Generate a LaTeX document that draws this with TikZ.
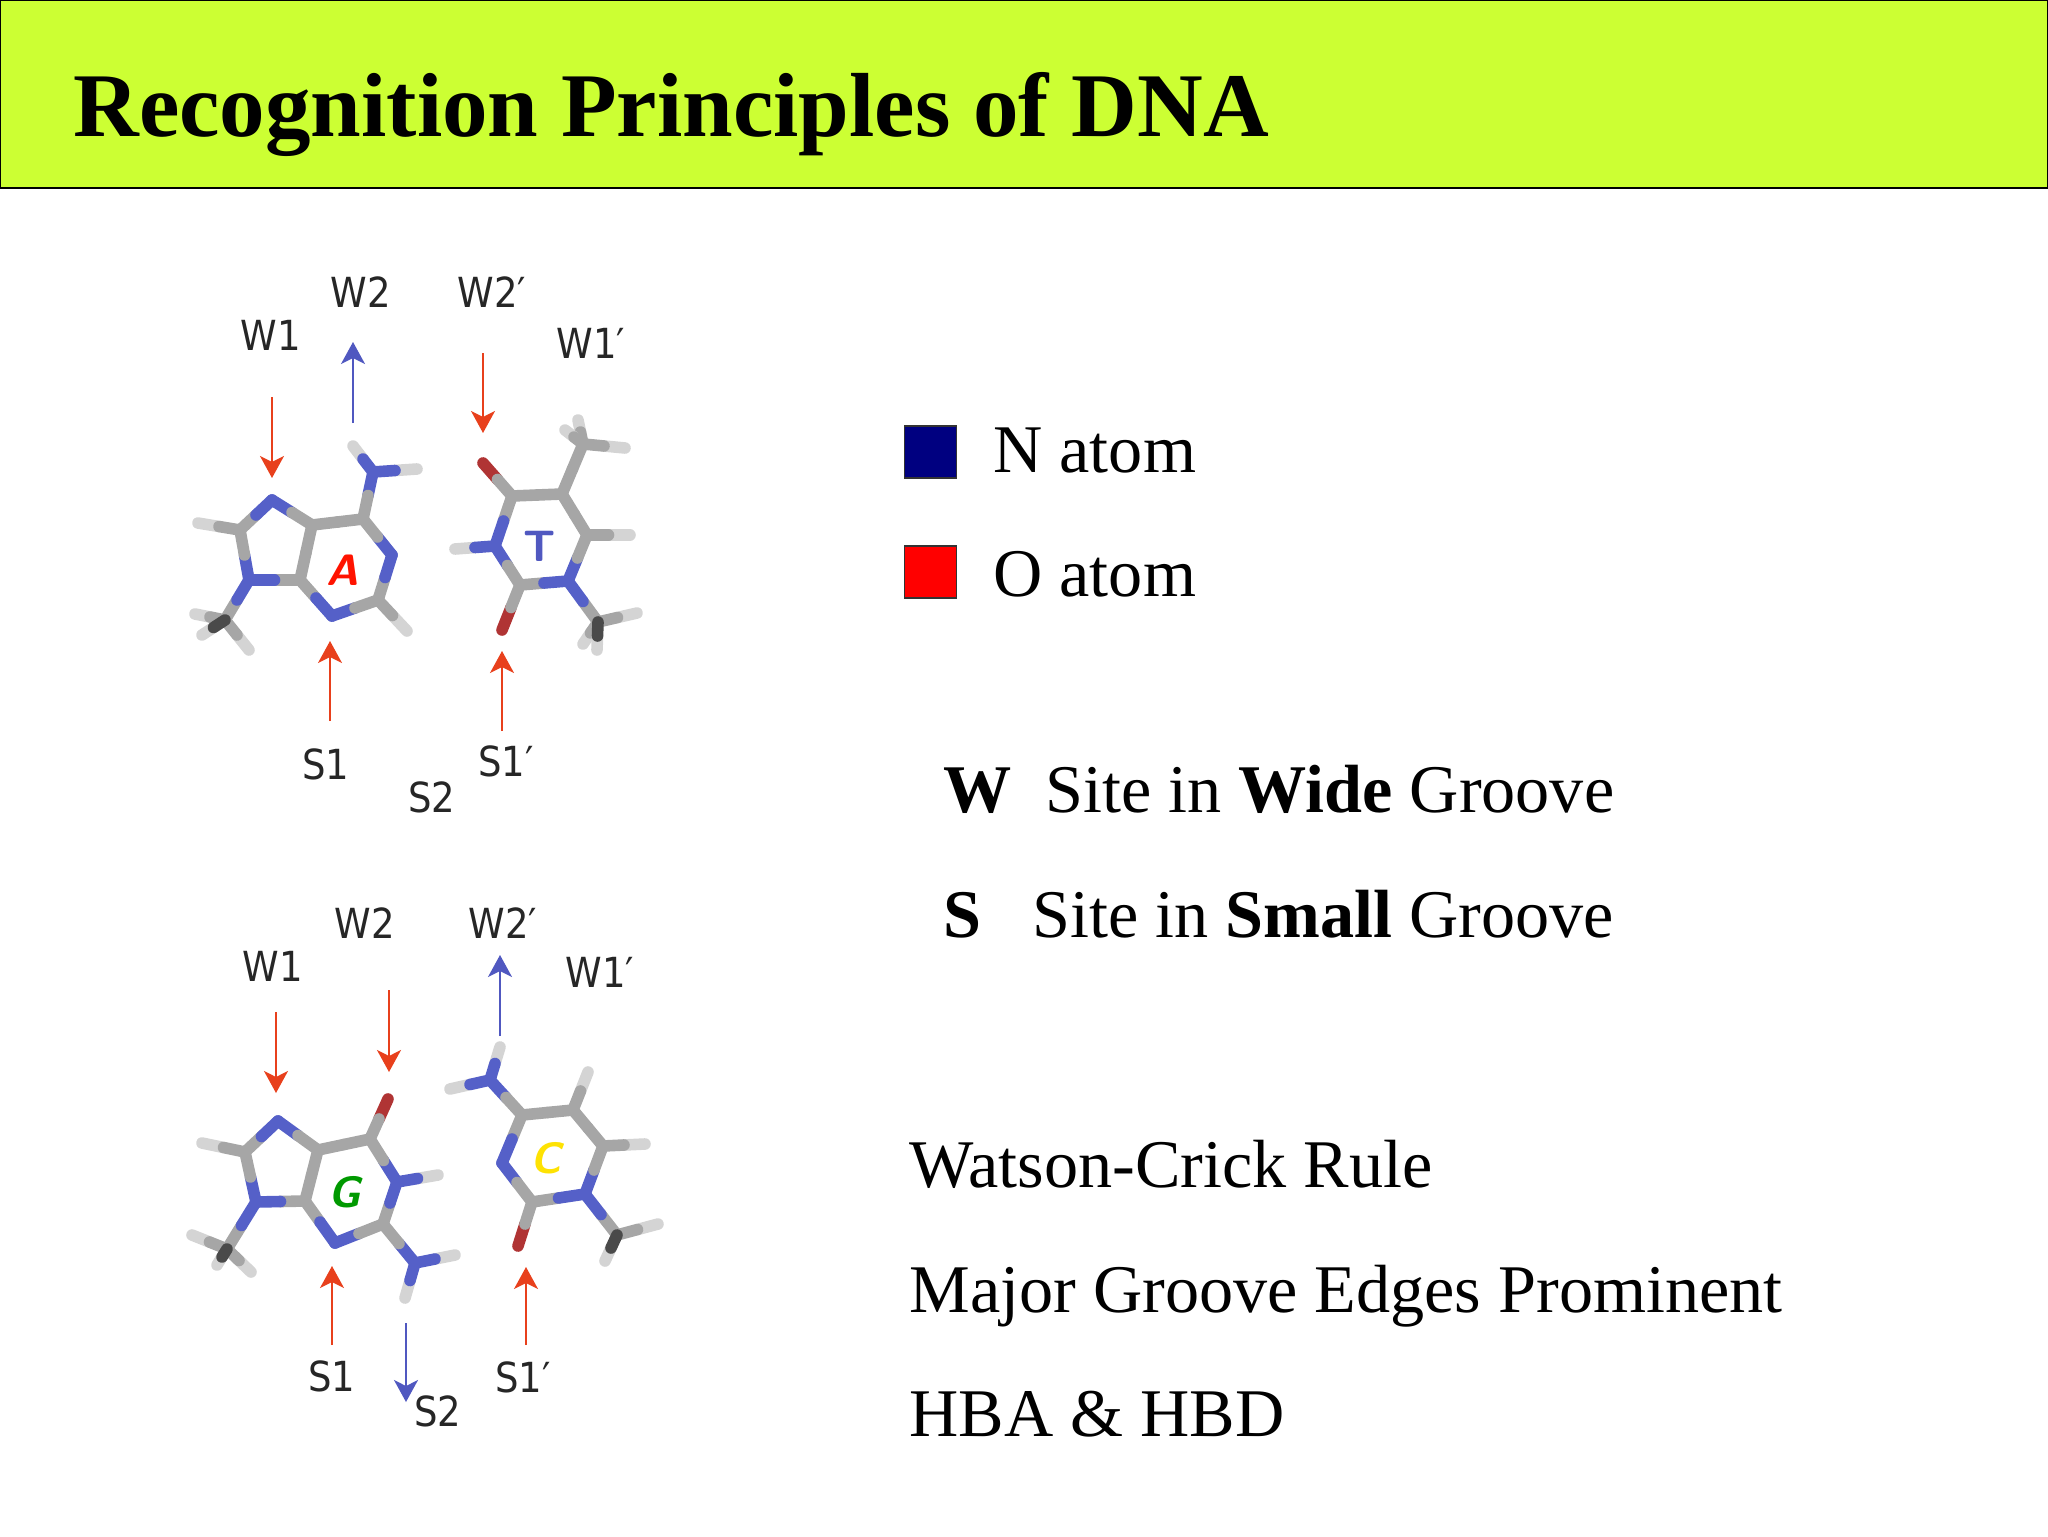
\documentclass[tikz,border=0pt]{standalone}
\usepackage{fontspec}
\setmainfont{Liberation Serif}
\newfontfamily\labelfont{DejaVu Sans}
\usepackage{tikz}
\usetikzlibrary{calc, arrows.meta}

\definecolor{bannergreen}{HTML}{CCFF33}
\definecolor{atomC}{HTML}{A6A6A6}
\definecolor{atomN}{HTML}{5560C8}
\definecolor{atomH}{HTML}{D4D4D4}
\definecolor{atomO}{HTML}{B03434}
\definecolor{atomD}{HTML}{4A4A4A}
\definecolor{siteRed}{HTML}{E8401C}
\definecolor{siteBlue}{HTML}{5058C0}

\tikzset{
    bond/.style={line width=5.8pt, line cap=round},
    siteArrow/.style={line width=0.9pt, -{Stealth[length=11pt,width=12pt,inset=3pt]}},
    siteLabel/.style={font=\labelfont\fontsize{18.5}{21}\selectfont, text=black!85, yscale=1.12, transform shape},
    baseLetter/.style={font=\sffamily\bfseries\itshape\fontsize{22}{25}\selectfont},
    bodyText/.style={anchor=base west, inner sep=0pt, font=\fontsize{34.1}{40}\selectfont},
    legendBox/.style={draw=black!80, line width=0.6pt, minimum size=26pt, inner sep=0pt}
}

\begin{document}
\begin{tikzpicture}[x=0.5pt,y=-0.5pt]
    \useasboundingbox (0,0) rectangle (2048,1536);

    % banner
    \node[draw=black, line width=0.8pt, fill=bannergreen, anchor=north west, minimum width=1024pt, minimum height=94pt, inner sep=0pt, outer sep=0pt] (banner) at (0,0) {};
    \node[anchor=base west, inner sep=0pt, font=\bfseries\fontsize{45.5}{52}\selectfont] (title) at (73,136) {Recognition Principles of DNA};

    % adenine
    \coordinate (aN7) at (272,500);
    \coordinate (aC8) at (240,530);
    \coordinate (aH8) at (198,523);
    \coordinate (aN9) at (249,580);
    \coordinate (aC4) at (300,580);
    \coordinate (aC5) at (312,525);
    \coordinate (aC6) at (363,519);
    \coordinate (aN1) at (392,555);
    \coordinate (aC2) at (378,600);
    \coordinate (aN3) at (332,616);
    \coordinate (aH2) at (407,631);
    \coordinate (aN6) at (373,472);
    \coordinate (aHa) at (353,446);
    \coordinate (aHb) at (417,469);
    \coordinate (aMe) at (225,620);
    \coordinate (aHc) at (195,614);
    \coordinate (aHd) at (202,635);
    \coordinate (aHe) at (249,650);

    % thymine
    \coordinate (tC4) at (512,496);
    \coordinate (tO4) at (483,463);
    \coordinate (tC5) at (562,494);
    \coordinate (tMe) at (583,444);
    \coordinate (tHa) at (625,448);
    \coordinate (tHb) at (578,420);
    \coordinate (tHc) at (565,430);
    \coordinate (tC6) at (587,535);
    \coordinate (tH6) at (630,535);
    \coordinate (tN1) at (568,581);
    \coordinate (tC2) at (520,585);
    \coordinate (tN3) at (495,546);
    \coordinate (tH3) at (455,549);
    \coordinate (tO2) at (502,630);
    \coordinate (tMf) at (598,622);
    \coordinate (tHd) at (637,613);
    \coordinate (tHe) at (597,650);
    \coordinate (tHf) at (583,644);

    % guanine
    \coordinate (gN7) at (278,1121);
    \coordinate (gC8) at (245,1152);
    \coordinate (gH8) at (202,1143);
    \coordinate (gN9) at (256,1202);
    \coordinate (gC4) at (305,1201);
    \coordinate (gC5) at (318,1150);
    \coordinate (gC6) at (370,1139);
    \coordinate (gO6) at (388,1099);
    \coordinate (gN1) at (397,1182);
    \coordinate (gH1) at (438,1175);
    \coordinate (gC2) at (383,1224);
    \coordinate (gN3) at (335,1243);
    \coordinate (gN2) at (415,1263);
    \coordinate (gHa) at (455,1255);
    \coordinate (gHb) at (405,1298);
    \coordinate (gMe) at (227,1249);
    \coordinate (gHc) at (192,1235);
    \coordinate (gHd) at (217,1265);
    \coordinate (gHe) at (251,1272);

    % cytosine
    \coordinate (cC4) at (522,1115);
    \coordinate (cN4) at (490,1080);
    \coordinate (cHa) at (500,1047);
    \coordinate (cHb) at (450,1089);
    \coordinate (cC5) at (573,1110);
    \coordinate (cH5) at (588,1072);
    \coordinate (cC6) at (603,1146);
    \coordinate (cH6) at (645,1144);
    \coordinate (cN1) at (585,1194);
    \coordinate (cC2) at (532,1202);
    \coordinate (cN3) at (502,1163);
    \coordinate (cO2) at (518,1246);
    \coordinate (cMe) at (617,1235);
    \coordinate (cHd) at (658,1224);
    \coordinate (cHe) at (605,1261);

    % bonds, each one half in the colour of its atom
    \foreach \from/\to/\colA/\colB in {
        aN7/aC8/atomN/atomC, aC8/aH8/atomC/atomH, aC8/aN9/atomC/atomN, aN9/aC4/atomN/atomC,
        aC4/aC5/atomC/atomC, aC5/aN7/atomC/atomN, aC5/aC6/atomC/atomC, aC6/aN1/atomC/atomN,
        aN1/aC2/atomN/atomC, aC2/aN3/atomC/atomN, aN3/aC4/atomN/atomC, aC2/aH2/atomC/atomH,
        aC6/aN6/atomC/atomN, aN6/aHa/atomN/atomH, aN6/aHb/atomN/atomH, aN9/aMe/atomN/atomC,
        aMe/aHc/atomC/atomH, aMe/aHe/atomC/atomH, aMe/aHd/atomD/atomH,
        tC4/tO4/atomC/atomO, tC4/tC5/atomC/atomC, tC5/tMe/atomC/atomC, tMe/tHa/atomC/atomH,
        tMe/tHb/atomC/atomH, tMe/tHc/atomC/atomH, tC5/tC6/atomC/atomC, tC6/tH6/atomC/atomH,
        tC6/tN1/atomC/atomN, tN1/tC2/atomN/atomC, tC2/tN3/atomC/atomN, tN3/tC4/atomN/atomC,
        tN3/tH3/atomN/atomH, tC2/tO2/atomC/atomO, tN1/tMf/atomN/atomC, tMf/tHd/atomC/atomH,
        tMf/tHf/atomC/atomH, tMf/tHe/atomD/atomH,
        gN7/gC8/atomN/atomC, gC8/gH8/atomC/atomH, gC8/gN9/atomC/atomN, gN9/gC4/atomN/atomC,
        gC4/gC5/atomC/atomC, gC5/gN7/atomC/atomN, gC5/gC6/atomC/atomC, gC6/gO6/atomC/atomO,
        gC6/gN1/atomC/atomN, gN1/gH1/atomN/atomH, gN1/gC2/atomN/atomC, gC2/gN3/atomC/atomN,
        gN3/gC4/atomN/atomC, gC2/gN2/atomC/atomN, gN2/gHa/atomN/atomH, gN2/gHb/atomN/atomH,
        gN9/gMe/atomN/atomC, gMe/gHc/atomC/atomH, gMe/gHe/atomC/atomH, gMe/gHd/atomD/atomH,
        cC4/cN4/atomC/atomN, cN4/cHa/atomN/atomH, cN4/cHb/atomN/atomH, cC4/cC5/atomC/atomC,
        cC5/cH5/atomC/atomH, cC5/cC6/atomC/atomC, cC6/cH6/atomC/atomH, cC6/cN1/atomC/atomN,
        cN1/cC2/atomN/atomC, cC2/cN3/atomC/atomN, cN3/cC4/atomN/atomC, cC2/cO2/atomC/atomO,
        cN1/cMe/atomN/atomC, cMe/cHd/atomC/atomH, cMe/cHe/atomD/atomH}
    {
        \draw[bond, draw=\colB] (\to) -- ($(\from)!.5!(\to)$);
        \draw[bond, draw=\colA] (\from) -- ($(\from)!.5!(\to)$);
    }

    % base letters
    \node[baseLetter, text=red!85!orange] (letterA) at (343,570) {A};
    \node[baseLetter, text=siteBlue, font=\sffamily\bfseries\fontsize{22}{25}\selectfont] (letterT) at (540,546) {T};
    \node[baseLetter, text=green!60!black] (letterG) at (345,1192) {G};
    \node[baseLetter, text=yellow!85!orange] (letterC) at (546,1158) {C};

    % site labels, upper pair
    \node[siteLabel] (aW1) at (271,335) {W1};
    \node[siteLabel] (aW2) at (361,292) {W2};
    \node[siteLabel] (tW2) at (492,292) {W2′};
    \node[siteLabel] (tW1) at (591,343) {W1′};
    \node[siteLabel] (aS1) at (326,764) {S1};
    \node[siteLabel] (tS1) at (506,761) {S1′};
    \node[siteLabel] (aS2) at (432,797) {S2};

    % site labels, lower pair
    \node[siteLabel] (gW1) at (273,966) {W1};
    \node[siteLabel] (gW2) at (365,923) {W2};
    \node[siteLabel] (cW2) at (503,923) {W2′};
    \node[siteLabel] (cW1) at (600,972) {W1′};
    \node[siteLabel] (gS1) at (332,1376) {S1};
    \node[siteLabel] (cS1) at (523,1377) {S1′};
    \node[siteLabel] (gS2) at (438,1411) {S2};

    % arrow ends
    \foreach \name/\xa/\ya/\xb/\yb/\col in {
        aw1/272/397/272/478/siteRed, aw2/353/423/353/342/siteBlue, tw2/483/353/483/433/siteRed,
        as1/330/721/330/641/siteRed, ts1/502/731/502/651/siteRed,
        gw1/276/1012/276/1093/siteRed, gw2/389/990/389/1072/siteRed, cw2/500/1036/500/955/siteBlue,
        gs1/332/1345/332/1266/siteRed, cs1/526/1345/526/1267/siteRed, gs2/406/1323/406/1402/siteBlue}
    {
        \coordinate (\name from) at (\xa,\ya);
        \coordinate (\name to) at (\xb,\yb);
        \draw[siteArrow, \col] (\name from) -- (\name to);
    }

    % legend
    \node[legendBox, fill=blue!50!black] (boxN) at (930.5,452) {};
    \node[legendBox, fill=red] (boxO) at (930.5,572) {};
    \node[bodyText] (textN) at (993,472) {N atom};
    \node[bodyText] (textO) at (993,596) {O atom};

    \node[bodyText] (keyW) at (943,812) {\bfseries W};
    \node[bodyText] (siteW) at (1045,812) {Site in \textbf{Wide} Groove};
    \node[bodyText] (keyS) at (943,937) {\bfseries S};
    \node[bodyText] (siteS) at (1032,937) {Site in \textbf{Small} Groove};

    \node[bodyText] (rule) at (909,1187) {Watson-Crick Rule};
    \node[bodyText] (edges) at (909,1312) {Major Groove Edges Prominent};
    \node[bodyText] (hba) at (909,1436) {HBA \& HBD};
\end{tikzpicture}
\end{document}
